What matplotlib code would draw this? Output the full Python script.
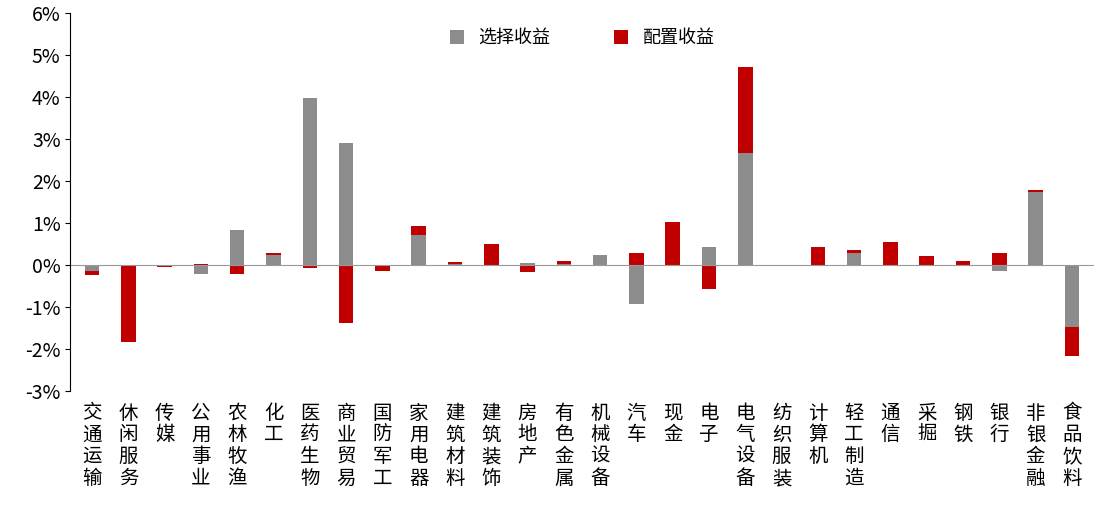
import matplotlib
matplotlib.use('Agg')
import matplotlib.pyplot as plt
import numpy as np
from matplotlib.ticker import FuncFormatter

plt.rcParams['font.family'] = ['Noto Sans CJK SC', 'DejaVu Sans']

categories = ['交通运输','休闲服务','传媒','公用事业','农林牧渔','化工','医药生物','商业贸易','国防军工','家用电器',
              '建筑材料','建筑装饰','房地产','有色金属','机械设备','汽车','现金','电子','电气设备','纺织服装',
              '计算机','轻工制造','通信','采掘','钢铁','银行','非银金融','食品饮料']
selection = [-0.15,0,0,-0.2,0.83,0.23,3.98,2.9,0,0.72,0.02,0,0.05,0.02,0.23,-0.92,0,0.42,2.67,0,0,0.28,0,0,0,-0.15,1.75,-1.47]
allocation = [-0.08,-1.82,-0.05,0.03,-0.22,0.07,-0.07,-1.37,-0.15,0.22,0.06,0.5,-0.17,0.07,0,0.3,1.03,-0.57,2.05,0,0.42,0.07,0.55,0.22,0.1,0.28,0.04,-0.7]

sel = np.array(selection); alc = np.array(allocation)
x = np.arange(len(categories))
fig, ax = plt.subplots(figsize=(11.16, 5.07), dpi=100)
fig.subplots_adjust(left=0.063, right=0.98, top=0.975, bottom=0.228)
w = 0.4
ax.bar(x, sel, w, color='#8c8c8c', label='选择收益')
bottom = np.where(np.sign(alc) == np.sign(sel), sel, 0)
ax.bar(x, alc, w, bottom=bottom, color='#c00000', label='配置收益')
ax.axhline(0, color='#999999', lw=0.8)
ax.set_ylim(-3, 6)
ax.set_xlim(-0.6, len(categories) - 0.4)
ax.set_yticks(range(-3, 7))
ax.yaxis.set_major_formatter(FuncFormatter(lambda v, p: f'{int(v)}%'))
ax.tick_params(axis='y', labelsize=14, direction='out')
ax.set_xticks(x)
ax.set_xticklabels(['\n'.join(c) for c in categories], fontsize=14, linespacing=1.05, va='top')
ax.tick_params(axis='x', length=0, pad=8)
for s in ['top', 'right', 'bottom']:
    ax.spines[s].set_visible(False)
ax.legend(loc='upper center', bbox_to_anchor=(0.5, 1.0), ncol=2, frameon=False, fontsize=13,
          handlelength=0.8, handleheight=0.8, columnspacing=3.5)
fig.savefig('out.png')
